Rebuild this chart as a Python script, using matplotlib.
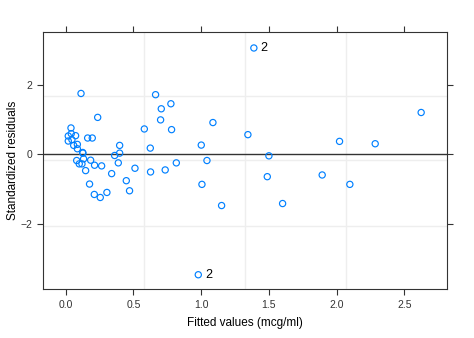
import numpy as np
import matplotlib.pyplot as plt

plt.rcParams['font.family'] = ['Liberation Sans', 'DejaVu Sans']

# fitted values (mcg/ml) and standardized residuals
fitted = [0.020, 0.020, 0.040, 0.042, 0.047, 0.060, 0.074, 0.087, 0.087, 0.126,
          0.128, 0.133, 0.082, 0.101, 0.121, 0.148, 0.163, 0.197, 0.177, 0.212,
          0.256, 0.305, 0.340, 0.185, 0.214, 0.266, 0.362, 0.399, 0.399, 0.389,
          0.448, 0.472, 0.512, 0.581, 0.625, 0.627, 0.664, 0.706, 0.701, 0.777,
          0.782, 0.735, 0.817, 1.001, 1.043, 1.006, 1.087, 1.151, 0.979, 1.389,
          1.345, 1.500, 1.488, 1.601, 1.893, 2.021, 2.097, 2.284, 2.623,
          0.114, 0.237]
resid = [0.533, 0.388, 0.765, 0.601, 0.426, 0.262, 0.543, 0.291, 0.165, 0.058,
         0.039, -0.126, -0.174, -0.271, -0.271, -0.465, 0.475, 0.475, -0.853, -1.153,
         -1.240, -1.095, -0.552, -0.165, -0.310, -0.329, -0.029, 0.262, 0.039, -0.242,
         -0.756, -1.047, -0.397, 0.736, 0.184, -0.504, 1.725, 1.318, 0.998, 1.463,
         0.717, -0.446, -0.242, 0.271, -0.174, -0.862, 0.921, -1.473, -3.469, 3.072,
         0.572, -0.039, -0.640, -1.415, -0.591, 0.378, -0.862, 0.310, 1.211,
         1.76, 1.07]

# labelled outliers (subject id)
out_x = [1.389, 0.979]
out_y = [3.072, -3.469]
out_lab = ['2', '2']

xticks = [0.0, 0.5, 1.0, 1.5, 2.0, 2.5]
yticks = [-2, 0, 2]
vgrid = [0.58, 1.323, 2.066]
hgrid = [1.68, -0.17, -2.05]

fig = plt.figure(figsize=(4.74, 3.38), dpi=100)
ax = fig.add_axes([0.0914, 0.146, 0.8506, 0.758])

for g in vgrid:
    ax.axvline(g, color='#eeeeee', lw=1, zorder=0)
for g in hgrid:
    ax.axhline(g, color='#eeeeee', lw=1, zorder=0)
ax.axhline(0, color='#333333', lw=1.0, zorder=1)

ax.scatter(fitted, resid, s=20, facecolors='none', edgecolors='#0080ff',
           linewidths=0.85, zorder=2)
for x, y, t in zip(out_x, out_y, out_lab):
    ax.annotate(t, (x, y), xytext=(5, 0), textcoords='offset points',
                va='center', ha='left', fontsize=9, color='black')

ax.set_xlim(-0.164, 2.81)
ax.set_ylim(-3.87, 3.52)
ax.set_xticks(xticks)
ax.set_xticklabels([f'{v:.1f}' for v in xticks])
ax.set_yticks(yticks)
ax.tick_params(direction='out', length=4, width=0.8, color='#333333',
               labelsize=7.5, labelcolor='#333333', top=True, right=True, pad=4)
for s in ax.spines.values():
    s.set_color('#333333')
    s.set_linewidth(0.8)

ax.set_xlabel('Fitted values (mcg/ml)', fontsize=8.5, labelpad=5)
ax.set_ylabel('Standardized residuals', fontsize=8.5, labelpad=1)

fig.savefig('out.png', dpi=100, facecolor='white')
